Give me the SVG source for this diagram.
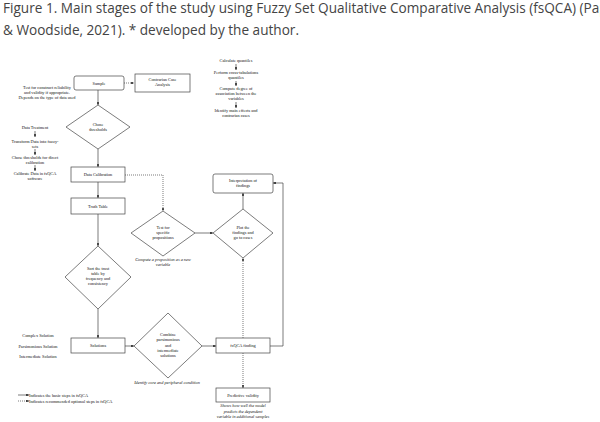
<svg xmlns="http://www.w3.org/2000/svg" width="600" height="422" viewBox="0 0 600 422">
<style>
.t{font-family:"Liberation Serif",serif;font-size:4.3px;fill:#111;text-anchor:middle}
.i{font-style:italic}
.b{fill:#fff;stroke:#444;stroke-width:0.7}
.l{fill:none;stroke:#444;stroke-width:0.7}
.d{fill:none;stroke:#444;stroke-width:0.7;stroke-dasharray:1,1}
.h{font-family:"Open Sans","Liberation Sans",sans-serif;font-size:13.6px;fill:#444}
</style>
<defs><marker id="a" viewBox="0 0 6 6" refX="6" refY="3" markerWidth="4" markerHeight="4" orient="auto"><path d="M0,0L6,3L0,6z" fill="#222"/></marker></defs>
<rect width="600" height="422" fill="#fff"/>
<text class="h" x="3" y="13">Figure 1. Main stages of the study using Fuzzy Set Qualitative Comparative Analysis (fsQCA) (Pappas</text>
<text class="h" x="3" y="35">&amp; Woodside, 2021). * developed by the author.</text>
<g id="connectors">
<path class="d" d="M124,83H134" marker-end="url(#a)"/>
<path class="l" d="M98,90V105" marker-end="url(#a)"/>
<path class="l" d="M98,149V167" marker-end="url(#a)"/>
<path class="l" d="M98,182V198" marker-end="url(#a)"/>
<path class="l" d="M98,214V246" marker-end="url(#a)"/>
<path class="l" d="M98,309V338" marker-end="url(#a)"/>
<path class="d" d="M125,175H163V211" marker-end="url(#a)"/>
<path class="l" d="M195,233H213" marker-end="url(#a)"/>
<path class="l" d="M243,209V193" marker-end="url(#a)"/>
<path class="l" d="M125,346H134" marker-end="url(#a)"/>
<path class="l" d="M202,346H216" marker-end="url(#a)"/>
<path class="l" d="M270,346H283V183H273" marker-end="url(#a)"/>
<path class="d" d="M243,338V258" marker-end="url(#a)"/>
<path class="d" d="M243,353V388" marker-end="url(#a)"/>
<path class="l" d="M35,131V137" marker-end="url(#a)"/>
<path class="l" d="M35,149V155" marker-end="url(#a)"/>
<path class="l" d="M35,165V171" marker-end="url(#a)"/>
<path class="l" d="M236,64V70" marker-end="url(#a)"/>
<path class="l" d="M236,81V86" marker-end="url(#a)"/>
<path class="l" d="M236,102V108" marker-end="url(#a)"/>
<path class="l" d="M18,395H29" marker-end="url(#a)"/>
<path class="d" d="M18,401H29" marker-end="url(#a)"/>
</g>
<g id="sample"><rect class="b" x="74" y="76" width="50" height="14" rx="2"/><text class="t" x="99" y="84.5">Sample</text></g>
<g id="contrarian"><rect class="b" x="135" y="74" width="55" height="18"/><text class="t" x="162.5" y="81">Contrarian Case</text><text class="t" x="162.5" y="86">Analysis</text></g>
<g id="note-reliability"><text class="t" x="47" y="89">Test for construct reliability</text><text class="t" x="47" y="94">and validity if appropriate.</text><text class="t" x="47" y="99">Depends on the type of data used</text></g>
<g id="thresholds"><path class="b" d="M98,105L130,127L98,149L66,127z"/><text class="t" x="98" y="126">Chose</text><text class="t" x="98" y="131">thresholds</text></g>
<g id="treatment"><text class="t" x="35" y="129">Data Treatment</text><text class="t" x="35" y="143">Transform Data into fuzzy-</text><text class="t" x="35" y="148">sets</text><text class="t" x="35" y="159">Chose thresholds for direct</text><text class="t" x="35" y="164">calibration</text><text class="t" x="35" y="175">Calibrate Data in fsQCA</text><text class="t" x="35" y="180">software</text></g>
<g id="calibration"><rect class="b" x="71" y="167" width="54" height="15"/><text class="t" x="98" y="176">Data Calibration</text></g>
<g id="truth"><rect class="b" x="71" y="198" width="54" height="16"/><text class="t" x="98" y="207.5">Truth Table</text></g>
<g id="quantiles"><text class="t" x="236" y="62">Calculate quantiles</text><text class="t" x="236" y="74">Perform cross-tabulations</text><text class="t" x="236" y="79">quantiles</text><text class="t" x="236" y="90">Compute degree of</text><text class="t" x="236" y="95">association between the</text><text class="t" x="236" y="100">variables</text><text class="t" x="236" y="112">Identify main effects and</text><text class="t" x="236" y="117">contrarian cases</text></g>
<g id="interpretation"><rect class="b" x="213" y="174" width="60" height="19" rx="2"/><text class="t" x="243" y="182">Interpretation of</text><text class="t" x="243" y="187">findings</text></g>
<g id="test"><path class="b" d="M163,211L195,233L163,256L131,233z"/><text class="t" x="163" y="229">Test for</text><text class="t" x="163" y="234">specific</text><text class="t" x="163" y="239">propositions</text><text class="t i" x="163" y="261">Compute a proposition as a new</text><text class="t i" x="163" y="266">variable</text></g>
<g id="plot"><path class="b" d="M243,209L273,233L243,258L213,233z"/><text class="t" x="243" y="229">Plot the</text><text class="t" x="243" y="234">findings and</text><text class="t" x="243" y="239">go to cases</text></g>
<g id="sort"><path class="b" d="M98,246L131,277L98,309L65,277z"/><text class="t" x="98" y="270">Sort the trust</text><text class="t" x="98" y="275">table by</text><text class="t" x="98" y="280">frequency and</text><text class="t" x="98" y="285">consistency</text></g>
<g id="solution-types"><text class="t" x="38" y="337">Complex Solution</text><text class="t" x="38" y="348">Parsimonious Solution</text><text class="t" x="38" y="358">Intermediate Solution</text></g>
<g id="solutions"><rect class="b" x="71" y="338" width="54" height="15"/><text class="t" x="98" y="347">Solutions</text></g>
<g id="combine"><path class="b" d="M168,313L202,346L168,378L134,346z"/><text class="t" x="168" y="336">Combine</text><text class="t" x="168" y="341">parsimonious</text><text class="t" x="168" y="347">and</text><text class="t" x="168" y="352">intermediate</text><text class="t" x="168" y="357">solutions</text><text class="t i" x="167" y="384">Identify core and peripheral condition</text></g>
<g id="fsqca"><rect class="b" x="216" y="338" width="54" height="15"/><text class="t" x="243" y="347">fsQCA finding</text></g>
<g id="predictive"><rect class="b" x="216" y="388" width="54" height="14"/><text class="t" x="243" y="396.5">Predictive validity</text><text class="t i" x="243" y="407">Shows how well the model</text><text class="t i" x="243" y="412.5">predicts the dependent</text><text class="t i" x="243" y="418">variable in additional samples</text></g>
<g id="legend"><text class="t" x="29" y="396.5" style="text-anchor:start">Indicates the basic steps in fsQCA</text><text class="t" x="29" y="402.5" style="text-anchor:start">Indicates recommended optional steps in fsQCA</text></g>
</svg>
